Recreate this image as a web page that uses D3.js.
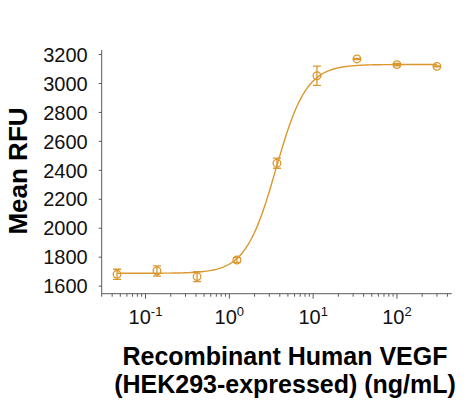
<!DOCTYPE html>
<html><head><meta charset="utf-8">
<script src="https://cdn.jsdelivr.net/npm/d3@7"></script>
<style>
html,body{margin:0;padding:0;background:#fff;}
svg{display:block;font-family:"Liberation Sans",Arial,sans-serif;}
</style></head>
<body>
<svg id="chart" width="474" height="405"></svg>
<script>
// Data
const concentrations = [0.0457, 0.137, 0.412, 1.23, 3.70, 11.1, 33.3, 100, 300]; // ng/mL
const meanRFU = [1678, 1701, 1662, 1777, 2446, 3050, 3166, 3127, 3115];
const errRFU = [35, 35, 35, 16, 35, 67, 4, 8, 3];
// 4-parameter logistic fit shown in the figure: bottom, top, EC50, Hill slope
const fitParams = [1685, 3128, 3.6, 2.4];
const yTickValues = [1600, 1800, 2000, 2200, 2400, 2600, 2800, 3000, 3200];
const xMajorExponents = [-1, 0, 1, 2];
const yTitle = "Mean RFU";
const xTitleLines = ["Recombinant Human VEGF", "(HEK293-expressed) (ng/mL)"];

(function () {
const color = "#DA982E";
const axisColor = "#5a5a5a";
const svg = d3.select("#chart");

const x = d3.scaleLog().domain([0.03, 450]).range([101.7, 451.7]);
const y = d3.scaleLinear().domain([1544, 3228]).range([293.7, 50]);

// Y axis
const yAxis = d3.axisLeft(y).tickValues(yTickValues).tickSize(3).tickPadding(11).tickFormat(d3.format("d"));
const gy = svg.append("g").attr("transform", `translate(${x.range()[0]},0)`).call(yAxis);
gy.select(".domain").attr("stroke", axisColor).attr("d", `M0,${y.range()[1]}V${y.range()[0]}`);
gy.selectAll(".tick line").attr("stroke", axisColor);
gy.selectAll(".tick text").attr("font-size", 20).attr("fill", "#111").attr("dy", "0.36em");

// X axis with minor ticks
const minorTicks = [];
for (let e = -2; e <= 2; e++) for (let m = 1; m <= 9; m++) {
  const v = m * Math.pow(10, e);
  if (v >= x.domain()[0] && v <= x.domain()[1]) minorTicks.push(v);
}
const gx = svg.append("g").attr("transform", `translate(0,${y.range()[0]})`);
gx.append("line").attr("x1", x.range()[0]).attr("x2", x.range()[1])
  .attr("stroke", axisColor).attr("stroke-width", 1);
gx.selectAll("line.tk").data(minorTicks).join("line").attr("class", "tk")
  .attr("x1", d => x(d)).attr("x2", d => x(d))
  .attr("y1", 0).attr("y2", d => Math.abs(Math.log10(d) - Math.round(Math.log10(d))) < 1e-9 ? 5 : 3)
  .attr("stroke", axisColor).attr("stroke-width", 1);
const lbl = gx.selectAll("text.xl").data(xMajorExponents).join("text").attr("class", "xl")
  .attr("x", d => x(Math.pow(10, d))).attr("y", 30.5)
  .attr("text-anchor", "middle").attr("fill", "#111");
lbl.append("tspan").attr("font-size", 20).text("10");
lbl.append("tspan").attr("font-size", 13).attr("dy", -8).text(d => d < 0 ? "-" + Math.abs(d) : String(d));

// Fitted curve
const [fBot, fTop, fEc50, fHill] = fitParams;
const fit = c => fBot + (fTop - fBot) / (1 + Math.pow(fEc50 / c, fHill));
const a = Math.log10(concentrations[0]), b = Math.log10(concentrations[concentrations.length - 1]);
const lx = d3.range(0, 201).map(i => Math.pow(10, a + (b - a) * i / 200));
svg.append("path").datum(lx)
  .attr("d", d3.line().x(c => x(c)).y(c => y(fit(c))))
  .attr("fill", "none").attr("stroke", color).attr("stroke-width", 1.4);

// Error bars
const pts = concentrations.map((c, i) => ({c, m: meanRFU[i], e: errRFU[i]}));
const eb = svg.append("g").attr("stroke", color).attr("stroke-width", 1.3).attr("fill", "none");
eb.selectAll("path").data(pts).join("path")
  .attr("d", d => {
    const cx = x(d.c), t = y(d.m + d.e), bb = y(d.m - d.e), w = 4;
    return `M${cx},${t}V${bb}M${cx - w},${t}H${cx + w}M${cx - w},${bb}H${cx + w}`;
  });
// Markers
svg.append("g").selectAll("circle").data(pts).join("circle")
  .attr("cx", d => x(d.c)).attr("cy", d => y(d.m)).attr("r", 3.8)
  .attr("fill", "none").attr("stroke", color).attr("stroke-width", 1.3);

// Titles
svg.append("text").attr("transform", "translate(27,171) rotate(-90)")
  .attr("text-anchor", "middle").attr("font-size", 26).attr("font-weight", "bold")
  .attr("fill", "#000").text(yTitle);
svg.selectAll("text.xt").data(xTitleLines).join("text").attr("class", "xt")
  .attr("x", 285).attr("y", (d, i) => 364.5 + i * 28.5)
  .attr("text-anchor", "middle").attr("font-size", 25).attr("font-weight", "bold")
  .attr("fill", "#000").text(d => d);
})();
</script>
</body></html>
